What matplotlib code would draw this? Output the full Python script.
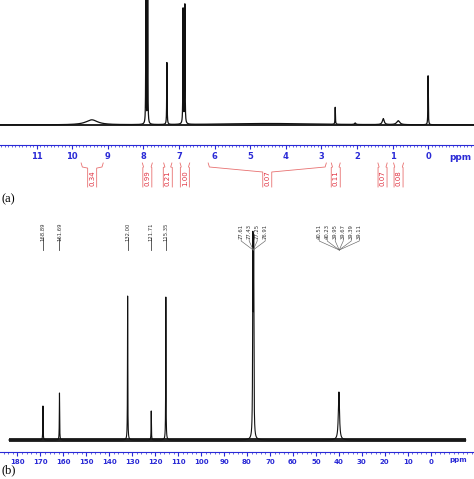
"""
1H (a) and 13C (b) NMR spectra, redrawn from the published figure
"""

import numpy as np
import matplotlib
matplotlib.use('Agg')
from matplotlib import pyplot as plt
from matplotlib.ticker import MultipleLocator

# ---- 1H spectrum (ppm, height above baseline, half width) ----
h_window = (12.5, -1.5)
h_shift = [9.45, 7.93, 7.88, 7.34, 6.885, 6.835, 4.5, 2.61, 2.05, 1.26, 0.84, 0.00]
h_height = [5, 130, 123, 62, 115, 119, 1.5, 17, 1.5, 6, 4, 49]
h_width = [0.2, 0.006, 0.006, 0.006, 0.006, 0.006, 1.8, 0.006, 0.02, 0.03, 0.05, 0.006]

# integrals: region start, region end, value
int_start = [9.75, 8.03, 7.43, 6.97, 6.18, 2.72, 1.41, 0.97]
int_end = [9.13, 7.75, 7.20, 6.70, 2.86, 2.47, 1.15, 0.69]
int_value = ['0.34', '0.99', '0.21', '1.00', '0.07', '0.11', '0.07', '0.08']
h_ticks = list(range(11, -1, -1))

# ---- 13C spectrum ----
c_window = (183.7, -15.3)
c_shift = [168.89, 161.69, 132.00, 121.71, 115.35, 77.43, 77.10, 39.95]
c_height = [34, 47, 144, 29, 143, 187, 184, 48]
c_width = [0.08, 0.08, 0.08, 0.08, 0.08, 0.12, 0.12, 0.3]

c_single = ['168.89', '161.69', '132.00', '121.71', '115.35']
c_group1 = ['77.61', '77.43', '77.25', '76.91']
c_group2 = ['40.51', '40.23', '39.95', '39.67', '39.39', '39.11']
c_ticks = list(range(180, -1, -10))


def lorentz(x, shifts, heights, widths):
    y = np.zeros_like(x)
    for s, h, w in zip(shifts, heights, widths):
        y += h / (1 + ((x - s) / w) ** 2)
    return y


W, H = 474, 479
fig = plt.figure(figsize=(W / 100, H / 100), dpi=100)

blue = '#2a2ad6'
red = '#e03040'


def style_axis(ax, major, minor, fs):
    for s in ['top', 'left', 'right']:
        ax.spines[s].set_visible(False)
    ax.spines['bottom'].set_color(blue)
    ax.spines['bottom'].set_linewidth(0.8)
    ax.set_yticks([])
    ax.xaxis.set_major_locator(MultipleLocator(major))
    ax.xaxis.set_minor_locator(MultipleLocator(minor))
    ax.tick_params(axis='x', which='major', colors=blue, length=3, width=0.8,
                   pad=2, labelsize=fs)
    ax.tick_params(axis='x', which='minor', colors=blue, length=1.6, width=0.5)
    ax.patch.set_alpha(0)


# ================= (a) 1H =================
ax1 = fig.add_axes([0, 1 - 145 / H, 1, 145 / H])
xh = np.linspace(h_window[0], h_window[1], 40000)
ax1.plot(xh, lorentz(xh, h_shift, h_height, h_width), color='#111111', lw=0.9)
ax1.plot(xh[[0, -1]], [0, 0], color='#111111', lw=1.3)
ax1.set_xlim(12.03, -1.29)
ax1.set_ylim(-20, 125)
style_axis(ax1, 1, 0.1, 6)
ax1.set_xticks(h_ticks)
ax1.set_xticklabels([str(t) for t in h_ticks], fontweight='bold')
fig.text(460 / W, 1 - 157 / H, 'ppm', color=blue, fontsize=6.5,
         fontweight='bold', ha='center', va='center')

# integral brackets, y in pixel rows below the baseline (row 125)
ppm_px = 474 / (12.03 + 1.29)
w_half = 4.5 / ppm_px
hook = 1.2 / ppm_px
for a, b, v in zip(int_start, int_end, int_value):
    c = (a + b) / 2
    span = (a - b) * ppm_px
    knee = 167 + min(5, 0.05 * span)
    for edge, sgn in [(a, 1), (b, -1)]:
        xs = [edge, edge - sgn * hook, c + sgn * w_half, c + sgn * w_half]
        ys = [125 - 163, 125 - 167, 125 - knee, 125 - 187]
        ax1.plot(xs, ys, color='#e87070', lw=0.6, clip_on=False)
    ax1.text(c, 125 - 178, v, color=red, fontsize=5, rotation=90,
             ha='center', va='center', clip_on=False)

fig.text(1 / W, 1 - 199 / H, '(a)', family='Liberation Serif', fontsize=9,
         va='center', ha='left')

# ================= (b) 13C =================
ax2 = fig.add_axes([0, 1 - 452 / H, 1, 227 / H])
xc = np.linspace(c_window[0], c_window[1], 40000)
ax2.plot(xc[[0, -1]], [0, 0], color='#222222', lw=2.8, solid_capstyle='butt')
ax2.plot(xc, lorentz(xc, c_shift, c_height, c_width), color='#111111', lw=0.8)
ax2.set_xlim(187.6, -18.9)
ax2.set_ylim(-12, 215)
style_axis(ax2, 10, 2, 5)
ax2.set_xticks(c_ticks)
ax2.set_xticklabels([str(t) for t in c_ticks], fontweight='bold')
fig.text(458 / W, 1 - 460 / H, 'ppm', color=blue, fontsize=5,
         fontweight='bold', ha='center', va='center')

# peak labels, y in pixel rows above the baseline (row 440)
lab_kw = dict(fontsize=3.8, rotation=90, ha='center', va='center',
              color='#333333', clip_on=False)
for lab in c_single:
    p = float(lab)
    ax2.plot([p, p], [440 - 238, 440 - 250], color='#444444', lw=0.6,
             clip_on=False)
    ax2.text(p, 440 - 231.5, lab, **lab_kw)

spacing = 8 / 2.295
for group in [c_group1, c_group2]:
    vals = [float(g) for g in group]
    centre = sum(vals) / len(vals)
    n = len(group)
    for i, lab in enumerate(group):
        xl = centre + ((n - 1) / 2 - i) * spacing
        ax2.plot([xl, xl, centre], [440 - 238, 440 - 241, 440 - 250],
                 color='#666666', lw=0.45, clip_on=False)
        ax2.text(xl, 440 - 231.5, lab, **lab_kw)

fig.text(1 / W, 1 - 470 / H, '(b)', family='Liberation Serif', fontsize=9,
         va='center', ha='left')

fig.savefig('out.png', dpi=100)
